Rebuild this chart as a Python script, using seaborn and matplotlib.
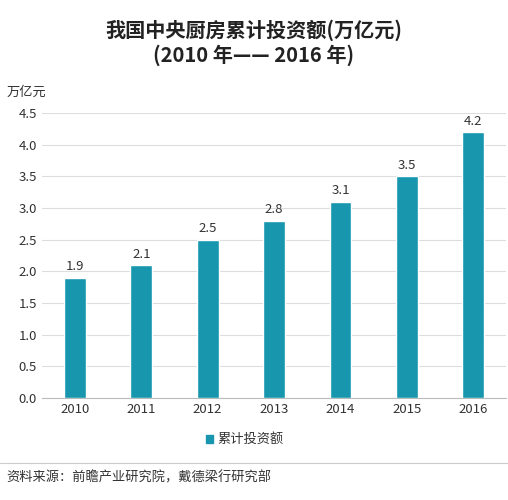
import matplotlib
matplotlib.use("Agg")
import matplotlib.pyplot as plt
import seaborn as sns
import pandas as pd

years = ["2010", "2011", "2012", "2013", "2014", "2015", "2016"]
invest = [1.9, 2.1, 2.5, 2.8, 3.1, 3.5, 4.2]
yticks = [0.0, 0.5, 1.0, 1.5, 2.0, 2.5, 3.0, 3.5, 4.0, 4.5]

sns.set_style("white")
plt.rcParams['font.family'] = ['Noto Sans CJK SC', 'DejaVu Sans']

df = pd.DataFrame({"year": years, "value": invest})
color = "#1896ad"

fig = plt.figure(figsize=(5.08, 5.0), dpi=100)
ax = fig.add_axes([0.082, 0.204, 0.915, 0.57])
sns.barplot(data=df, x="year", y="value", color=color, width=0.33, ax=ax,
            saturation=1, zorder=3)
ax.set_ylim(0, 4.5)
ax.set_yticks(yticks)
ax.set_yticklabels([f"{v:.1f}" for v in yticks])
ax.grid(axis="y", color="#dddddd", linewidth=0.8, zorder=0)
for s in ["top", "right", "left"]:
    ax.spines[s].set_visible(False)
ax.spines["bottom"].set_color("#bbbbbb")
ax.tick_params(axis="both", length=0, labelsize=9.5, colors="#333333")
ax.set_xlabel("")
ax.set_ylabel("")
for i, v in enumerate(invest):
    ax.text(i, v + 0.07, f"{v}", ha="center", va="bottom", fontsize=9.5, color="#333333")

fig.text(0.5, 0.94, "我国中央厨房累计投资额(万亿元)", ha="center", va="center",
         fontsize=14.5, fontweight="bold", color="#222222")
fig.text(0.5, 0.89, "(2010 年—— 2016 年)", ha="center", va="center",
         fontsize=14.5, fontweight="bold", color="#222222")
fig.text(0.012, 0.815, "万亿元", ha="left", va="center", fontsize=9.5, color="#333333")

fig.patches.append(plt.Rectangle((0.405, 0.114), 0.014, 0.016, color=color,
                                 transform=fig.transFigure, figure=fig))
fig.text(0.428, 0.122, "累计投资额", ha="left", va="center", fontsize=9.5, color="#333333")
fig.add_artist(plt.Line2D([0.0, 1.0], [0.075, 0.075], color="#cccccc", linewidth=0.8,
                          transform=fig.transFigure))
fig.text(0.012, 0.045, "资料来源：前瞻产业研究院，戴德梁行研究部", ha="left", va="center",
         fontsize=9.5, color="#333333")

fig.savefig("out.png", dpi=100)
